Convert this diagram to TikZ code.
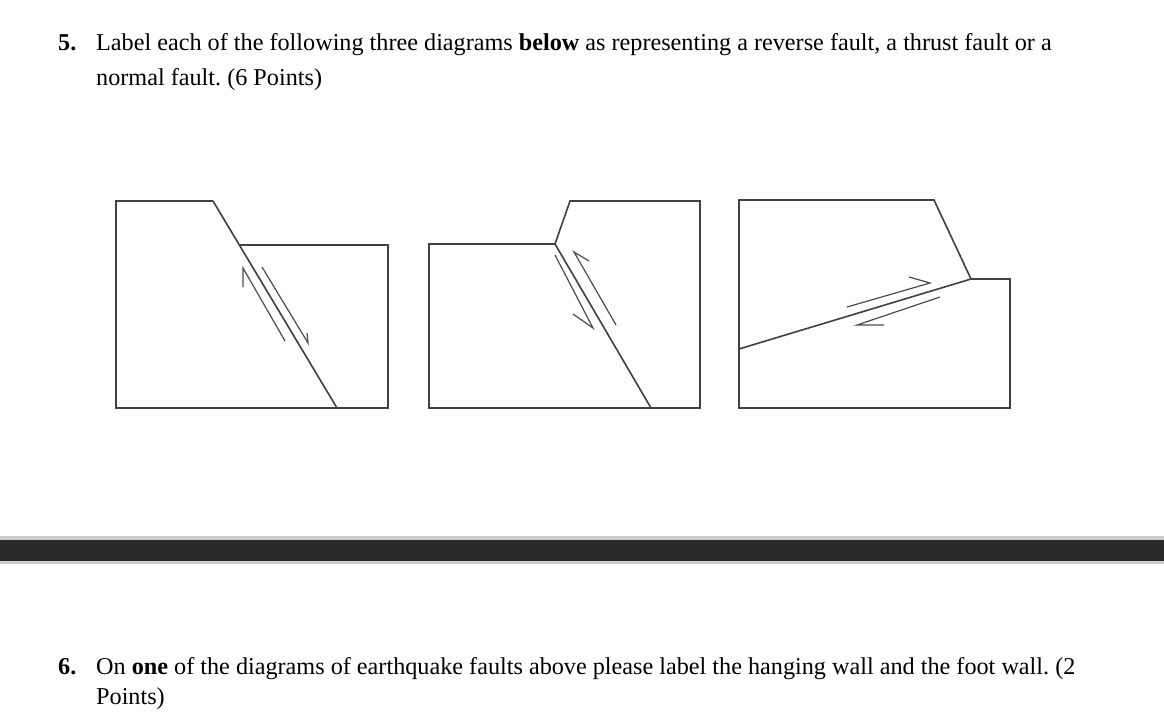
\documentclass[tikz,border=0pt]{standalone}
\usepackage{fontspec}
\setmainfont{Liberation Serif}
\frenchspacing
\begin{document}
\begin{tikzpicture}[x=1pt,y=-1pt,
  geo/.style={draw=black!75,line width=1.6pt,line join=miter},
  half/.style={draw=black!70,line width=1.2pt},
  txt/.style={anchor=base west,inner sep=0pt,font=\fontsize{24.2}{28}\selectfont}]
\useasboundingbox[fill=white] (0,0) rectangle (1164,724);
% texts
\node[txt] (n5) at (58,50) {\textbf{5.}};
\node[txt] (t5a) at (96,50) {Label each of the following three diagrams \textbf{below} as representing a reverse fault, a thrust fault or a};
\node[txt] (t5b) at (96,85) {normal fault. (6 Points)};
% bar
\fill[black!20] (0,536) rectangle (1164,564);
\fill[black!84] (0,540) rectangle (1164,561);
\node[txt] (n6) at (58,674) {\textbf{6.}};
\node[txt] (t6a) at (96,674) {On \textbf{one} of the diagrams of earthquake faults above please label the hanging wall and the foot wall. (2};
\node[txt] (t6b) at (96,704) {Points)};
% diagram 1
\draw[geo] (213,201) -- (116,201) -- (116,408) -- (388,408) -- (388,245) -- (239,245);
\draw[geo] (213,201) -- (337,408);
\draw[half] (243,287) -- (243,268) -- (285,341);
\draw[half] (262,267) -- (308,343) -- (307,333);
% diagram 2
\draw[geo] (555,244) -- (429,244) -- (429,408) -- (700,408) -- (700,201) -- (570,201) -- (555,244) -- (651,408);
\draw[half] (555,255) -- (593,328) -- (573,314);
\draw[half] (616,325) -- (574,252) -- (589,261);
% diagram 3
\draw[geo] (739,349) -- (739,200) -- (934,200) -- (971,279) -- (1010,279) -- (1010,408) -- (739,408) -- (739,349) -- (971,279);
\draw[half] (847,307) -- (930,283) -- (909,277);
\draw[half] (940,297) -- (857,325) -- (884,325);
\end{tikzpicture}
\end{document}
